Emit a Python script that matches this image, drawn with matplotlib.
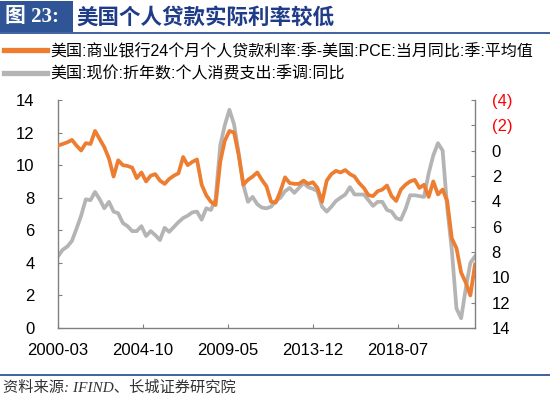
import numpy as np
import pandas as pd
import matplotlib
matplotlib.use("Agg")
import matplotlib.pyplot as plt
from matplotlib.lines import Line2D
from matplotlib.patches import Rectangle
from matplotlib.ticker import FuncFormatter

plt.rcParams['font.family'] = ['Liberation Sans', 'Noto Sans CJK SC']
plt.rcParams['axes.unicode_minus'] = False

# quarterly dates 2000-03 .. 2022-09
dates = pd.date_range("2000-03-31", "2022-09-30", freq="QE")

# 实际利率 (left axis, %)
real_rate = [
    11.2, 11.3, 11.4, 11.55, 11.2, 10.9, 11.35, 11.3, 12.1, 11.6,
    11.1, 10.4, 9.3, 10.3, 10.0, 9.95, 9.85, 9.2, 9.55, 9.0,
    9.35, 9.45, 9.05, 8.85, 9.15, 9.35, 9.5, 10.5, 10.0, 10.2,
    10.35, 8.8, 8.15, 7.75, 7.55, 10.2, 11.5, 12.1, 12.0, 10.6,
    8.8, 9.1, 9.3, 9.55, 9.1, 8.7, 7.75, 7.7, 8.4, 9.25,
    8.9, 8.85, 8.85, 9.05, 8.85, 8.95, 8.6, 7.75, 9.05, 9.45,
    9.65, 9.55, 9.7, 9.45, 9.3, 8.9, 8.6, 8.15, 8.1, 8.4,
    8.5, 8.75, 8.1, 7.8, 8.5, 8.8, 9.0, 9.1, 8.6, 8.8,
    8.05, 9.0, 8.2, 8.5, 7.8, 5.5, 4.9, 3.4, 2.8, 2.0,
    3.9,
]

# 个人消费支出同比 (right axis, inverted, %)
pce_yoy = [
    8.34, 7.83, 7.57, 7.12, 6.16, 5.13, 3.84, 3.91, 3.26, 3.84,
    4.55, 4.04, 4.81, 4.94, 5.71, 5.96, 6.35, 6.35, 5.96, 6.74,
    6.35, 6.67, 7.06, 6.09, 6.41, 6.03, 5.64, 5.32, 5.13, 4.87,
    4.81, 5.45, 4.55, 4.68, 3.84, -0.40, -2.01, -3.23, -2.07, 0.24,
    2.69, 4.04, 3.65, 4.23, 4.49, 4.55, 4.42, 3.97, 3.71, 3.20,
    2.94, 3.33, 2.94, 2.56, 2.88, 3.01, 3.20, 4.42, 4.81, 4.42,
    3.97, 3.71, 3.46, 2.88, 3.46, 3.46, 3.46, 3.91, 4.36, 4.04,
    4.04, 4.68, 4.81, 5.32, 5.45, 4.61, 3.52, 3.52, 3.59, 3.65,
    1.79, 0.37, -0.59, -0.01, 4.49, 7.83, 12.46, 13.23, 10.91, 8.86,
    8.34,
]

tick_dates = pd.to_datetime(["2000-03-31", "2004-10-31", "2009-05-31", "2013-12-31", "2018-07-31"])
tick_labels = ["2000-03", "2004-10", "2009-05", "2013-12", "2018-07"]

label_rate = "美国:商业银行24个月个人贷款利率:季-美国:PCE:当月同比:季:平均值"
label_pce = "美国:现价:折年数:个人消费支出:季调:同比"

orange = "#ED7D31"
grey = "#B4B4B4"
blue = "#2F5597"
spine_c = "#808080"

fig = plt.figure(figsize=(5.5, 3.99), dpi=100)
ax = fig.add_axes([58 / 550, 1 - 328 / 399, 417 / 550, 228 / 399])
ax2 = ax.twinx()

ax.plot(dates, real_rate, color=orange, lw=2.7, solid_joinstyle="round", zorder=3)
ax2.plot(dates, pce_yoy, color=grey, lw=2.7, solid_joinstyle="round", zorder=2)
ax.set_zorder(ax2.get_zorder() + 1)
ax.patch.set_visible(False)

ax.set_xlim(dates[0], dates[-1])
ax.set_ylim(0, 14)
ax.set_yticks(np.arange(0, 15, 2))
ax2.set_ylim(14, -4)
ax2.set_yticks(np.arange(-4, 15, 2))
ax2.yaxis.set_major_formatter(FuncFormatter(lambda v, p: f"({abs(int(v))})" if v < 0 else f"{int(v)}"))
for lab, v in zip(ax2.get_yticklabels(), np.arange(-4, 15, 2)):
    if v < 0:
        lab.set_color("red")

ax.set_xticks(tick_dates)
ax.set_xticklabels(tick_labels)

for a in (ax, ax2):
    for s in a.spines.values():
        s.set_color(spine_c)
        s.set_linewidth(1.0)
    a.spines["top"].set_visible(False)
    a.tick_params(direction="in", length=3, color=spine_c, labelsize=12, pad=11)
ax.spines["right"].set_visible(False)
ax2.spines["left"].set_visible(False)
ax2.spines["bottom"].set_visible(False)
ax.tick_params(axis="y", pad=17)
ax2.tick_params(axis="y", pad=12)

# 标题
fig.patches.append(Rectangle((0, 1 - 32 / 399), 73 / 550, 31 / 399, transform=fig.transFigure,
                             facecolor=blue, edgecolor="none"))
fig.text(5 / 550, 1 - 17 / 399, "图 23:", color="white", fontsize=15, fontweight="bold",
         family=["Liberation Serif", "Noto Sans CJK SC"], va="center")
fig.text(76 / 550, 1 - 17 / 399, "美国个人贷款实际利率较低", color="#1F3C88", fontsize=15.5,
         fontweight="bold", family=["Noto Sans CJK SC"], va="center")
fig.add_artist(Line2D([0, 1], [1 - 33 / 399] * 2, color=blue, lw=1.3, transform=fig.transFigure))

# 图例
handles = [Line2D([], [], color=orange, lw=3.8), Line2D([], [], color=grey, lw=3.8)]
fig.legend(handles, [label_rate, label_pce], loc="upper left", bbox_to_anchor=(4 / 550, 1 - 43 / 399),
           frameon=False, handlelength=2.7, handletextpad=0.2, labelspacing=0.45,
           borderaxespad=0, borderpad=0, prop={"family": ["Liberation Sans", "Noto Sans CJK SC"], "size": 11.5})

# 底部
fig.add_artist(Line2D([0, 1], [1 - 375 / 399] * 2, color=blue, lw=1.3, transform=fig.transFigure))
fig.text(3 / 550, 1 - 388 / 399, "资料来源: IFIND、长城证券研究院", fontsize=11, style="italic",
         family=["Liberation Serif", "Noto Sans CJK SC"], va="center", color="#333333")

fig.savefig("out.png", dpi=100)
